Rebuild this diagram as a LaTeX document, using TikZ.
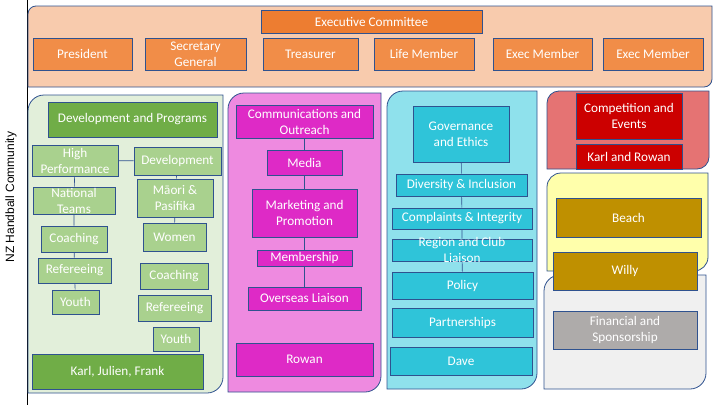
\documentclass[tikz,border=0pt]{standalone}
\usepackage{fontspec}
\setmainfont{Carlito}
\newfontfamily\sidefont{Liberation Sans}
\usetikzlibrary{positioning}
\definecolor{bordblue}{HTML}{2F528F}
\definecolor{peach}{HTML}{F8CBAD}
\definecolor{execorange}{HTML}{ED7D31}
\definecolor{roworange}{HTML}{F18D48}
\definecolor{palegreen}{HTML}{E2EFDA}
\definecolor{darkgreen}{HTML}{70AD47}
\definecolor{midgreen}{HTML}{A9D18E}
\definecolor{palepink}{HTML}{EE8AE0}
\definecolor{magbox}{HTML}{DE2AC6}
\definecolor{palecyan}{HTML}{8FE1EC}
\definecolor{cyanbox}{HTML}{2FC4D9}
\definecolor{palered}{HTML}{E57373}
\definecolor{redbox}{HTML}{CC0000}
\definecolor{paleyellow}{HTML}{FFFFAB}
\definecolor{goldbox}{HTML}{BF9000}
\definecolor{palegrey}{HTML}{F0F0F0}
\definecolor{greybox}{HTML}{AEABAA}
\newcommand{\panel}[6]{\draw[draw=bordblue, line width=0.8pt, fill=#1] (#2,#5) -- (#2,#3+#6) arc[start angle=180, end angle=270, radius=#6] -- (#4,#3) -- (#4,#5-#6) arc[start angle=0, end angle=90, radius=#6] -- cycle;}

\begin{document}
\begin{tikzpicture}[x=1pt, y=-1pt,
  box/.style={draw=bordblue, line width=0.8pt, inner sep=0pt, align=center, text=white, font=\fontsize{13.2}{16}\selectfont},
  sz/.style 2 args={minimum width=#1pt, minimum height=#2pt},
  exbox/.style={box, fill=execorange},
  obox/.style={box, fill=roworange},
  dgbox/.style={box, fill=darkgreen},
  gbox/.style={box, fill=midgreen},
  mbox/.style={box, fill=magbox},
  cbox/.style={box, fill=cyanbox},
  rbox/.style={box, fill=redbox},
  ybox/.style={box, fill=goldbox},
  fbox/.style={box, fill=greybox},
  link/.style={draw=bordblue, line width=0.6pt}]
\useasboundingbox (0,0) rectangle (720,405);
\draw[line width=0.8pt] (27,0) -- (27,405);
\node[rotate=90, font=\sidefont\fontsize{12}{14}\selectfont] (community) at (11,197) {NZ Handball Community};

\panel{peach}{28}{6}{712}{87}{8}
\node[exbox, sz={221}{23}] (exec) at (371.5,21.5) {Executive Committee};
\node[obox, sz={99}{32}] (president) at (82.5,54) {President};
\node[obox, sz={101}{32}] (secretary) at (195.5,54) {Secretary\\General};
\node[obox, sz={95}{32}] (treasurer) at (310.5,54) {Treasurer};
\node[obox, sz={100}{32}] (life) at (424,54) {Life Member};
\node[obox, sz={99}{32}] (execa) at (542.5,54) {Exec Member};
\node[obox, sz={100}{32}] (execb) at (653,54) {Exec Member};

\panel{palegreen}{28}{95}{223}{393}{16}
\node[dgbox, sz={169}{35}] (devprog) at (132.5,119.5) {Development and Programs};
\node[gbox, sz={86}{31}] (highperf) at (75,160.5) {High\\Performance};
\node[gbox, sz={87}{28}] (dev) at (177.5,161) {Development};
\node[gbox, sz={82}{27}] (national) at (74,200.5) {National\\Teams};
\node[gbox, sz={76}{38}] (maori) at (175,198) {Māori \&\\Pasifika};
\node[gbox, sz={66}{26}] (coachl) at (74,239) {Coaching};
\node[gbox, sz={63}{28}] (women) at (174.5,237) {Women};
\node[gbox, sz={73}{25}] (refl) at (74.5,270.5) {Refereeing};
\node[gbox, sz={68}{26}] (coachr) at (174,276) {Coaching};
\node[gbox, sz={47}{24}] (youthl) at (75.5,302) {Youth};
\node[gbox, sz={73}{26}] (refr) at (174.5,308) {Refereeing};
\node[gbox, sz={46}{24}] (youthr) at (176,339) {Youth};
\node[dgbox, sz={171}{35}] (kjf) at (117.5,371.5) {Karl, Julien, Frank};
\path[link] (highperf) -- (dev) (highperf) -- (national) (national) -- (coachl)
  (coachl) -- (refl) (refl) -- (youthl) (dev) -- (maori) (maori) -- (women);

\panel{palepink}{228}{93}{381}{392}{16}
\node[mbox, sz={137}{33}] (comms) at (304.5,121.5) {Communications and\\Outreach};
\node[mbox, sz={75}{25}] (media) at (304.5,162.5) {Media};
\node[mbox, sz={105}{48}] (marketing) at (304.5,213) {Marketing and\\Promotion};
\node[mbox, sz={95}{16}] (membership) at (304.5,258) {Membership};
\node[mbox, sz={113}{23}] (overseas) at (304.5,298.5) {Overseas Liaison};
\node[mbox, sz={137}{33}] (rowan) at (304.5,359.5) {Rowan};
\path[link] (comms) -- (media) (media) -- (marketing) (marketing) -- (membership)
  (membership) -- (overseas);

\panel{palecyan}{387}{91}{537}{389}{16}
\node[cbox, sz={96}{56}] (governance) at (461,134) {Governance\\and Ethics};
\node[cbox, sz={131}{22}] (diversity) at (461.5,185) {Diversity \& Inclusion};
\node[cbox, sz={140}{21}] (complaints) at (462,218.5) {Complaints \& Integrity};
\node[cbox, sz={140}{22}] (region) at (462,250) {};
\node[box, draw=none] (regiontext) at (region.center) {Region and Club\\Liaison};
\node[cbox, sz={141}{27}] (policy) at (462.5,285.5) {Policy};
\node[cbox, sz={141}{29}] (partners) at (462.5,322.5) {Partnerships};
\node[cbox, sz={142}{28}] (dave) at (461,361) {Dave};
\path[link] (governance) -- (diversity) (diversity) -- (complaints)
  (complaints) -- (region) (region) -- (policy);

\panel{palered}{547}{91}{709}{169}{12}
\node[rbox, sz={106}{46}] (competition) at (629,116) {Competition and\\Events};
\node[rbox, sz={106}{25}] (karlrowan) at (629,156.5) {Karl and Rowan};

\panel{paleyellow}{547}{173}{708}{271}{14}
\node[ybox, sz={145}{39}] (beach) at (628.5,217.5) {Beach};
\panel{palegrey}{544}{275}{706}{389}{16}
\node[ybox, sz={144}{38}] (willy) at (625,271) {Willy};
\node[fbox, sz={144}{38}] (financial) at (625,330) {Financial and\\Sponsorship};
\end{tikzpicture}
\end{document}
